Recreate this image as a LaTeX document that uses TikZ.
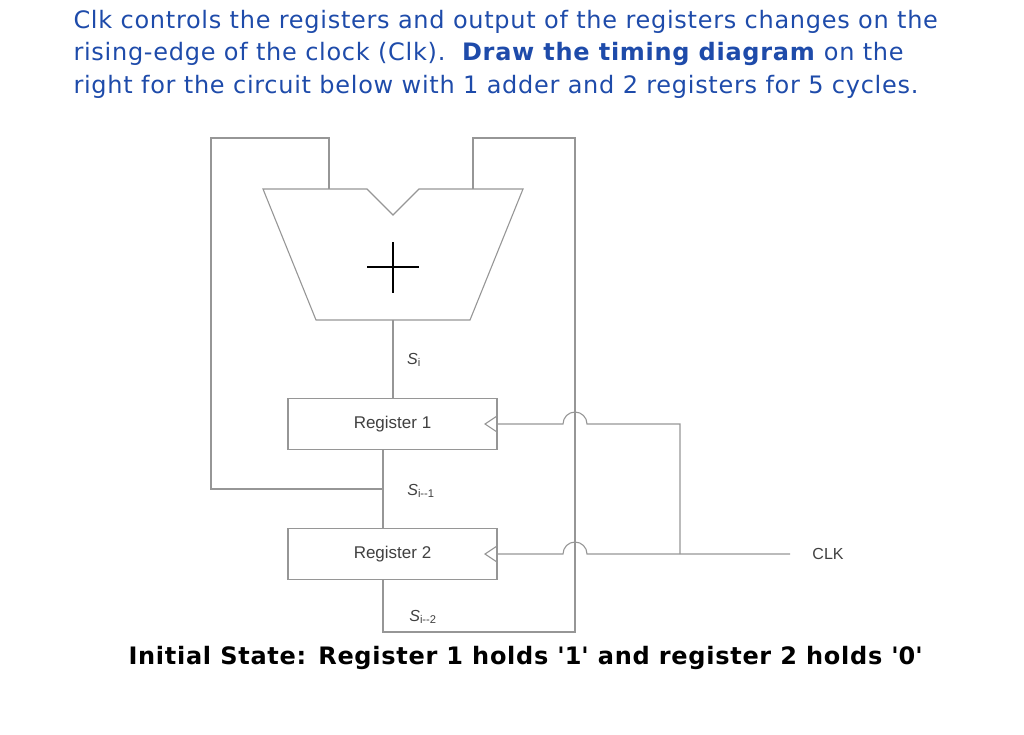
\documentclass[tikz,border=0pt]{standalone}
\usepackage{fontspec}
\setmainfont{DejaVu Sans}[LetterSpace=3]
\newfontfamily\lab{Liberation Sans}
\definecolor{qblue}{RGB}{30,75,170}
\definecolor{wire}{RGB}{150,150,150}
\begin{document}
\begin{tikzpicture}[x=1pt,y=-1pt,
  w/.style={draw=wire,line width=1.1pt},
  reg/.style={draw=wire,line width=1.1pt,minimum width=209pt,minimum height=51pt,font=\lab\fontsize{17}{19}\selectfont,text=black!75},
  sig/.style={font=\lab\fontsize{16}{18}\selectfont,text=black!75},
  q/.style={anchor=west,text=qblue,font=\fontsize{24}{28}\selectfont}]
\useasboundingbox (0,0) rectangle (1024,734);
\node[q] (l1) at (70,22) {Clk controls the registers and output of the registers changes on the};
\node[q] (l2) at (70,54) {rising-edge of the clock (Clk).\ \ \textbf{Draw the timing diagram} on the};
\node[q] (l3) at (70,87) {right for the circuit below with 1 adder and 2 registers for 5 cycles.};
% adder
\draw[w] (263,189) -- (367,189) -- (393,215) -- (419,189) -- (523,189) -- (470,320) -- (316,320) -- cycle;
\draw[line width=1.3pt] (367,267) -- (419,267) (393,242) -- (393,293);
\coordinate (al) at (329,189);
\coordinate (ar) at (473,189);
\coordinate (ao) at (393,320);
\node[reg] (r1) at (392.5,424) {Register 1};
\node[reg] (r2) at (392.5,554) {Register 2};
\draw[w] (ao) -- (ao |- r1.north);
\draw[w] (r1.south -| 383,0) -- (r2.north -| 383,0);
\draw[w] (383,489) -- (211,489) -- (211,138) -- (329,138) -- (al);
\draw[w] (ar) -- (473,138) -- (575,138) -- (575,632) -- (383,632) -- (r2.south -| 383,0);
% clock triangles
\draw[w] (497,416) -- (485,424) -- (497,432);
\draw[w] (497,546) -- (485,554) -- (497,562);
\coordinate (c1) at (497,424);
\coordinate (c2) at (497,554);
\draw[w] (c1) -- (563,424) arc[start angle=180,end angle=360,radius=12] -- (680,424) -- (680,554);
\draw[w] (c2) -- (563,554) arc[start angle=180,end angle=360,radius=12] -- (790,554);
\node[sig] (clk) at (828,554) {CLK};
\node[sig] (s0) at (414,360) {\textit{S}\textsubscript{i}};
\node[sig] (s1) at (421,491) {\textit{S}\textsubscript{i--1}};
\node[sig] (s2) at (423,617) {\textit{S}\textsubscript{i--2}};
\node[font=\bfseries\fontsize{24}{28}\selectfont,anchor=west] (init) at (125,658) {Initial State: Register 1 holds \textquotesingle 1\textquotesingle{} and register 2 holds \textquotesingle 0\textquotesingle};
\end{tikzpicture}
\end{document}
